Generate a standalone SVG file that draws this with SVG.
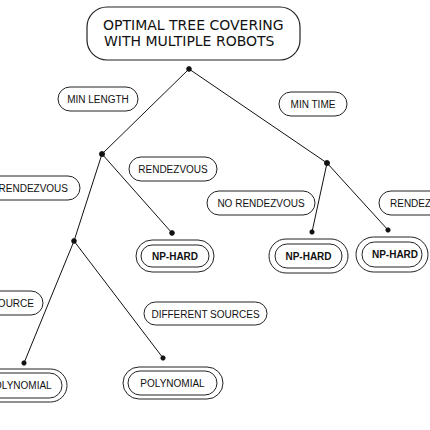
<svg xmlns="http://www.w3.org/2000/svg" width="430" height="430" viewBox="0 0 430 430">
<style>
.pill{fill:#fff;stroke:#222;stroke-width:1}
.lbl{font-family:"Liberation Sans",Arial,sans-serif;font-size:10px;fill:#111;text-anchor:middle}
.b{font-weight:bold}
.title{font-family:"DejaVu Sans",sans-serif;font-size:14px;fill:#111}
.edge{stroke:#111;stroke-width:1;fill:none}
.dot{fill:#111;stroke:#111;stroke-width:0.8}
</style>
<rect width="430" height="430" fill="#fff"/>
<g id="connectors">
<line class="edge" x1="189" y1="69" x2="102" y2="154"/>
<line class="edge" x1="189" y1="69" x2="327" y2="163"/>
<line class="edge" x1="102" y1="154" x2="74" y2="241"/>
<line class="edge" x1="102" y1="154" x2="172" y2="233"/>
<line class="edge" x1="74" y1="241" x2="24" y2="363"/>
<line class="edge" x1="74" y1="241" x2="163" y2="358"/>
<line class="edge" x1="327" y1="163" x2="312" y2="232"/>
<line class="edge" x1="327" y1="163" x2="388" y2="230"/>
<circle class="dot" cx="189" cy="69" r="2.4"/>
<circle class="dot" cx="102" cy="154" r="2.6"/>
<circle class="dot" cx="327" cy="163" r="2.6"/>
<circle class="dot" cx="74" cy="241" r="2.4"/>
<circle class="dot" cx="172" cy="233" r="2.4"/>
<circle class="dot" cx="312" cy="232" r="2.2"/>
<circle class="dot" cx="388" cy="230" r="2.2"/>
<circle class="dot" cx="24" cy="363" r="2.2"/>
<circle class="dot" cx="163" cy="358" r="2.2"/>
</g>
<g id="title">
<rect x="87" y="7" width="213" height="53" rx="20" fill="#fff" stroke="#222" stroke-width="1.2"/>
<text class="title" x="103" y="30">OPTIMAL TREE COVERING</text>
<text class="title" x="104" y="45.5">WITH MULTIPLE ROBOTS</text>
</g>
<g id="min-length">
<rect class="pill" x="58" y="87" width="80" height="24" rx="12"/>
<text class="lbl" x="98" y="103">MIN LENGTH</text>
</g>
<g id="min-time">
<rect class="pill" x="279" y="92" width="68" height="24" rx="12"/>
<text class="lbl" x="313" y="108">MIN TIME</text>
</g>
<g id="rendezvous-left">
<rect class="pill" x="-14" y="176" width="94" height="24" rx="12"/>
<text class="lbl" x="68" y="192" style="text-anchor:end">RENDEZVOUS</text>
</g>
<g id="rendezvous-mid">
<rect class="pill" x="129" y="157" width="88" height="24" rx="12"/>
<text class="lbl" x="173" y="173">RENDEZVOUS</text>
</g>
<g id="no-rendezvous">
<rect class="pill" x="207" y="191" width="108" height="24" rx="12"/>
<text class="lbl" x="261" y="207">NO RENDEZVOUS</text>
</g>
<g id="rendezvous-right">
<rect class="pill" x="379" y="191" width="90" height="24" rx="12"/>
<text class="lbl" x="390" y="207" style="text-anchor:start">RENDEZVOUS</text>
</g>
<g id="same-source">
<rect class="pill" x="-40" y="291" width="83" height="24" rx="12"/>
<text class="lbl" x="34" y="307" style="text-anchor:end">SOURCE</text>
</g>
<g id="different-sources">
<rect class="pill" x="144" y="302" width="123" height="23" rx="11.5"/>
<text class="lbl" x="205.5" y="317.5">DIFFERENT SOURCES</text>
</g>
<g id="np-hard-1">
<rect class="pill" x="136" y="240" width="78" height="32" rx="16"/>
<rect class="pill" x="141" y="245" width="68" height="22" rx="11"/>
<text class="lbl b" x="175" y="259.5">NP-HARD</text>
</g>
<g id="np-hard-2">
<rect class="pill" x="269" y="239" width="79" height="34" rx="17"/>
<rect class="pill" x="275" y="244" width="67" height="24" rx="12"/>
<text class="lbl b" x="308.5" y="259.5">NP-HARD</text>
</g>
<g id="np-hard-3">
<rect class="pill" x="356" y="237" width="72" height="35" rx="17.5"/>
<rect class="pill" x="362" y="242" width="60" height="25" rx="12.5"/>
<text class="lbl b" x="395" y="258">NP-HARD</text>
</g>
<g id="polynomial-1">
<rect class="pill" x="-33" y="369" width="100" height="33" rx="16.5"/>
<rect class="pill" x="-28" y="373" width="90" height="25" rx="12.5"/>
<text class="lbl" x="19.5" y="389">POLYNOMIAL</text>
</g>
<g id="polynomial-2">
<rect class="pill" x="123" y="367" width="100" height="32" rx="16"/>
<rect class="pill" x="128" y="371" width="89" height="24" rx="12"/>
<text class="lbl" x="172.5" y="387">POLYNOMIAL</text>
</g>
</svg>
